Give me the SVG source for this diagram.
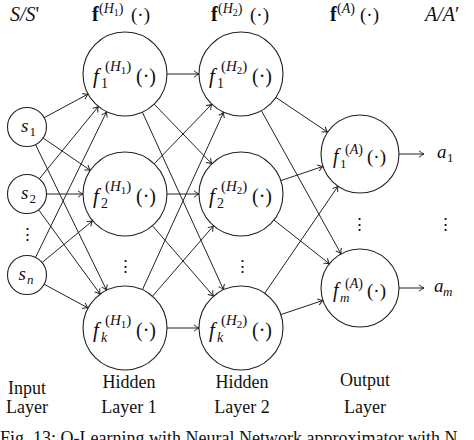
<svg xmlns="http://www.w3.org/2000/svg" width="474" height="440" viewBox="0 0 474 440">
<style>
text { font-family: "Liberation Serif", "Times New Roman", serif; fill: #111; }
.i { font-style: italic; }
.b { font-weight: bold; }
.n { fill: #fff; stroke: #222; stroke-width: 1.1; }
.e line { stroke: #222; stroke-width: 1; marker-end: url(#ah); }
.d { font-family: "DejaVu Serif", serif; font-size: 17px; text-anchor: middle; }
.lab { font-size: 18px; text-anchor: middle; }
</style>
<defs>
<marker id="ah" markerUnits="userSpaceOnUse" viewBox="-6 -4 7 8" refX="0" refY="0" markerWidth="7" markerHeight="8" orient="auto" overflow="visible">
<path d="M-5,-3.2 Q-2,-0.6 0,0 Q-2,0.6 -5,3.2" fill="none" stroke="#222" stroke-width="1"/>
</marker>
</defs>
<rect width="474" height="440" fill="#fff"/>

<g id="headers">
<text x="10" y="21" font-size="20"><tspan class="i">S/S</tspan>'</text>
<text font-size="20"><tspan x="92" y="21" class="b">f</tspan><tspan x="99" y="13" font-size="14">(<tspan class="i">H</tspan><tspan font-size="10" dy="2.5">1</tspan><tspan dy="-2.5">)</tspan></tspan><tspan x="131" y="21" font-size="19">(·)</tspan></text>
<text font-size="20"><tspan x="211" y="21" class="b">f</tspan><tspan x="218" y="13" font-size="14">(<tspan class="i">H</tspan><tspan font-size="10" dy="2.5">2</tspan><tspan dy="-2.5">)</tspan></tspan><tspan x="250" y="21" font-size="19">(·)</tspan></text>
<text font-size="20"><tspan x="330" y="21" class="b">f</tspan><tspan x="337" y="13" font-size="14">(<tspan class="i">A</tspan>)</tspan><tspan x="360" y="21" font-size="19">(·)</tspan></text>
<text x="425" y="21" font-size="20"><tspan class="i">A/A</tspan>′</text>
</g>

<g id="connectors" class="e">
<line x1="44.2" y1="117.7" x2="88.1" y2="94.0"/>
<line x1="43.1" y1="138.0" x2="90.3" y2="170.3"/>
<line x1="35.5" y1="144.5" x2="106.6" y2="290.2"/>
<line x1="39.3" y1="178.9" x2="98.4" y2="106.5"/>
<line x1="46.5" y1="194" x2="83" y2="194"/>
<line x1="38.5" y1="209.7" x2="100.2" y2="294.1"/>
<line x1="35.5" y1="257.5" x2="106.6" y2="111.8"/>
<line x1="42.0" y1="262.6" x2="92.6" y2="220.8"/>
<line x1="44.2" y1="284.3" x2="88.1" y2="308.0"/>

<line x1="167" y1="74" x2="199" y2="74"/>
<line x1="154.2" y1="104.2" x2="211.8" y2="163.8"/>
<line x1="142.4" y1="112.2" x2="223.6" y2="289.8"/>
<line x1="154.2" y1="163.8" x2="211.8" y2="104.2"/>
<line x1="167" y1="194" x2="199" y2="194"/>
<line x1="152.5" y1="225.8" x2="213.5" y2="296.2"/>
<line x1="142.4" y1="289.8" x2="223.6" y2="112.2"/>
<line x1="152.5" y1="296.2" x2="213.5" y2="225.8"/>
<line x1="167" y1="328" x2="199" y2="328"/>

<line x1="275.9" y1="97.4" x2="327.6" y2="132.2"/>
<line x1="261.4" y1="110.7" x2="341.0" y2="253.9"/>
<line x1="280.8" y1="180.6" x2="323.0" y2="166.4"/>
<line x1="274.0" y1="220.0" x2="329.4" y2="263.8"/>
<line x1="264.7" y1="293.3" x2="338.0" y2="186.2"/>
<line x1="280.8" y1="314.6" x2="323.0" y2="300.4"/>

<line x1="399" y1="154" x2="424" y2="154"/>
<line x1="399" y1="288" x2="424" y2="288"/>
</g>

<g id="s1"><circle class="n" cx="27" cy="127" r="19.5"/>
<text font-size="19"><tspan class="i" x="21" y="132">s</tspan><tspan x="29.5" y="136" font-size="13">1</tspan></text></g>
<g id="s2"><circle class="n" cx="27" cy="194" r="19.5"/>
<text font-size="19"><tspan class="i" x="21" y="199">s</tspan><tspan x="29.5" y="203" font-size="13">2</tspan></text></g>
<g id="sn"><circle class="n" cx="27" cy="275" r="19.5"/>
<text font-size="19"><tspan class="i" x="18.5" y="280">s</tspan><tspan class="i" x="27" y="284" font-size="13">n</tspan></text></g>

<g id="h1-1"><circle class="n" cx="125" cy="74" r="42"/>
<text font-size="21"><tspan class="i" x="93" y="83">f</tspan><tspan x="101" y="88" font-size="14">1</tspan><tspan x="105" y="71" font-size="15">(<tspan class="i">H</tspan><tspan font-size="11" dy="3">1</tspan><tspan dy="-3">)</tspan></tspan><tspan x="136" y="83" font-size="20">(·)</tspan></text></g>
<g id="h1-2"><circle class="n" cx="125" cy="194" r="42"/>
<text font-size="21"><tspan class="i" x="93" y="203">f</tspan><tspan x="101" y="208" font-size="14">2</tspan><tspan x="105" y="191" font-size="15">(<tspan class="i">H</tspan><tspan font-size="11" dy="3">1</tspan><tspan dy="-3">)</tspan></tspan><tspan x="136" y="203" font-size="20">(·)</tspan></text></g>
<g id="h1-k"><circle class="n" cx="125" cy="328" r="42"/>
<text font-size="21"><tspan class="i" x="93" y="337">f</tspan><tspan class="i" x="101" y="342" font-size="14">k</tspan><tspan x="105" y="325" font-size="15">(<tspan class="i">H</tspan><tspan font-size="11" dy="3">1</tspan><tspan dy="-3">)</tspan></tspan><tspan x="136" y="337" font-size="20">(·)</tspan></text></g>

<g id="h2-1"><circle class="n" cx="241" cy="74" r="42"/>
<text font-size="21"><tspan class="i" x="209" y="83">f</tspan><tspan x="217" y="88" font-size="14">1</tspan><tspan x="221" y="71" font-size="15">(<tspan class="i">H</tspan><tspan font-size="11" dy="3">2</tspan><tspan dy="-3">)</tspan></tspan><tspan x="252" y="83" font-size="20">(·)</tspan></text></g>
<g id="h2-2"><circle class="n" cx="241" cy="194" r="42"/>
<text font-size="21"><tspan class="i" x="209" y="203">f</tspan><tspan x="217" y="208" font-size="14">2</tspan><tspan x="221" y="191" font-size="15">(<tspan class="i">H</tspan><tspan font-size="11" dy="3">2</tspan><tspan dy="-3">)</tspan></tspan><tspan x="252" y="203" font-size="20">(·)</tspan></text></g>
<g id="h2-k"><circle class="n" cx="241" cy="328" r="42"/>
<text font-size="21"><tspan class="i" x="209" y="337">f</tspan><tspan class="i" x="217" y="342" font-size="14">k</tspan><tspan x="221" y="325" font-size="15">(<tspan class="i">H</tspan><tspan font-size="11" dy="3">2</tspan><tspan dy="-3">)</tspan></tspan><tspan x="252" y="337" font-size="20">(·)</tspan></text></g>

<g id="o-1"><circle class="n" cx="360" cy="154" r="39"/>
<text font-size="20"><tspan class="i" x="333" y="163">f</tspan><tspan x="340" y="168" font-size="13">1</tspan><tspan x="345" y="154" font-size="14">(<tspan class="i">A</tspan>)</tspan><tspan x="367" y="163" font-size="19">(·)</tspan></text></g>
<g id="o-m"><circle class="n" cx="360" cy="288" r="39"/>
<text font-size="20"><tspan class="i" x="333" y="297">f</tspan><tspan class="i" x="340" y="302" font-size="13">m</tspan><tspan x="345" y="288" font-size="14">(<tspan class="i">A</tspan>)</tspan><tspan x="367" y="297" font-size="19">(·)</tspan></text></g>

<g id="outputs">
<text font-size="19"><tspan class="i" x="437" y="158">a</tspan><tspan x="447" y="162" font-size="13">1</tspan></text>
<text font-size="19"><tspan class="i" x="434" y="292">a</tspan><tspan class="i" x="443" y="296" font-size="13">m</tspan></text>
</g>

<g id="dots">
<text class="d" x="27" y="240">⋮</text>
<text class="d" x="125" y="272">⋮</text>
<text class="d" x="242" y="272">⋮</text>
<text class="d" x="359" y="230">⋮</text>
<text class="d" x="445" y="230">⋮</text>
</g>

<g id="layer-labels">
<text class="lab" x="27" y="394" font-size="17.5">Input</text>
<text class="lab" x="27" y="413" font-size="17.5">Layer</text>
<text class="lab" x="129" y="388">Hidden</text>
<text class="lab" x="129" y="413">Layer 1</text>
<text class="lab" x="242" y="388">Hidden</text>
<text class="lab" x="242" y="413">Layer 2</text>
<text class="lab" x="365" y="386">Output</text>
<text class="lab" x="365" y="413">Layer</text>
</g>

<text x="0" y="444" font-size="18">Fig. 13: Q-Learning with Neural Network approximator with N</text>
</svg>
